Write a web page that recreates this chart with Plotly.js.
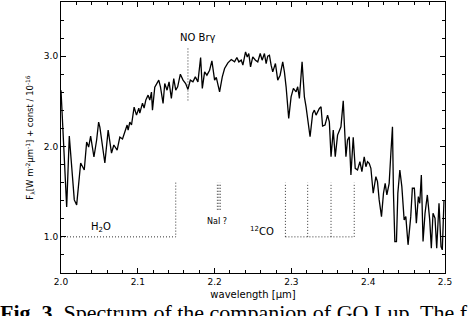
<!DOCTYPE html>
<html>
<head>
<meta charset="utf-8">
<script src="https://cdn.plot.ly/plotly-3.0.1.min.js"></script>
<style>html,body{margin:0;padding:0;background:#fff;}#chart{width:474px;height:316px;}</style>
</head>
<body>
<div id="chart"></div>
<script>
// Spectrum (wavelength in micron, flux + const in 1e-16 W m^-2 um^-1)
const wavelength = [2.0000,2.0074,2.0108,2.0173,2.0204,2.0256,2.0303,2.0334,2.0360,2.0386,2.0429,2.0464,2.0490,2.0506,2.0571,2.0614,2.0658,2.0688,2.0731,2.0766,2.0801,2.0831,2.0861,2.0874,2.0896,2.0918,2.0952,2.0983,2.1013,2.1026,2.1061,2.1082,2.1104,2.1134,2.1156,2.1178,2.1191,2.1221,2.1273,2.1295,2.1329,2.1351,2.1381,2.1407,2.1437,2.1468,2.1494,2.1519,2.1554,2.1589,2.1623,2.1653,2.1684,2.1718,2.1749,2.1783,2.1818,2.1840,2.1870,2.1900,2.1935,2.1965,2.2000,2.2022,2.2065,2.2100,2.2130,2.2173,2.2217,2.2260,2.2290,2.2316,2.2347,2.2368,2.2403,2.2425,2.2445,2.2468,2.2497,2.2532,2.2562,2.2594,2.2619,2.2649,2.2671,2.2692,2.2714,2.2736,2.2757,2.2792,2.2822,2.2853,2.2887,2.2909,2.2931,2.2965,2.2996,2.3026,2.3061,2.3082,2.3104,2.3139,2.3169,2.3191,2.3243,2.3277,2.3299,2.3321,2.3364,2.3386,2.3406,2.3438,2.3471,2.3494,2.3516,2.3545,2.3571,2.3601,2.3645,2.3675,2.3710,2.3731,2.3753,2.3775,2.3805,2.3831,2.3861,2.3892,2.3918,2.3948,2.3970,2.3991,2.4013,2.4035,2.4065,2.4100,2.4121,2.4143,2.4173,2.4199,2.4221,2.4243,2.4273,2.4295,2.4316,2.4329,2.4347,2.4368,2.4386,2.4412,2.4438,2.4468,2.4490,2.4519,2.4554,2.4575,2.4601,2.4627,2.4653,2.4671,2.4692,2.4714,2.4740,2.4770,2.4801,2.4822,2.4844,2.4870,2.4892,2.4922,2.4948,2.4965,2.4987];
const flux = [2.624,1.331,2.116,1.409,1.354,1.818,1.740,2.050,1.994,2.116,1.884,2.072,2.271,2.215,1.818,2.182,1.928,2.017,1.961,2.105,2.083,2.160,2.238,2.182,2.271,2.238,2.436,2.348,2.425,2.370,2.481,2.425,2.514,2.569,2.514,2.602,2.403,2.657,2.735,2.661,2.477,2.698,2.624,2.716,2.533,2.753,2.624,2.661,2.801,2.735,2.698,2.632,2.735,2.716,2.771,2.716,2.986,2.643,2.827,2.790,2.845,2.948,2.735,2.765,2.606,2.771,2.864,2.926,2.963,2.937,2.986,2.937,2.956,2.901,3.048,2.992,3.030,2.882,2.992,2.956,2.937,3.030,2.956,3.030,2.919,3.000,3.011,2.901,2.827,2.919,2.735,2.790,2.937,2.827,2.661,2.312,2.550,2.643,2.606,2.661,2.533,2.937,2.550,2.440,2.108,2.367,2.403,2.348,2.422,2.440,2.227,2.238,2.348,2.274,1.887,2.182,1.887,2.127,2.219,2.506,1.887,2.072,2.108,1.685,2.102,1.759,1.740,1.832,1.722,1.887,1.777,1.832,1.814,1.759,1.483,1.666,1.611,1.409,1.224,1.483,1.593,1.464,1.593,1.925,2.219,1.483,0.948,0.948,1.483,1.740,1.556,1.188,1.224,0.912,1.224,1.538,1.538,1.151,1.445,1.372,1.685,0.948,1.262,1.464,1.188,0.875,1.262,1.207,0.875,1.372,0.893,0.856,1.409];

// Feature markers
const h2oEdge = [2.0, 2.1494];
const coLines = [2.2922, 2.3212, 2.3516, 2.3818];
const naiLines = [2.2036, 2.2056, 2.2074];
const noBrg = 2.1653;
const markerBase = 1.0, markerTop = 1.6;
const naiRange = [1.30, 1.60];
const brgRange = [2.51, 3.10];

const xTicks = [2.0, 2.1, 2.2, 2.3, 2.4, 2.5];
const yTicks = [1.0, 2.0, 3.0];

// build dotted paths
const dotX = [], dotY = [];
function seg(xs, ys){ for (let i=0;i<xs.length;i++){dotX.push(xs[i]);dotY.push(ys[i]);} dotX.push(null); dotY.push(null); }
seg([h2oEdge[0], h2oEdge[1], h2oEdge[1]], [markerBase, markerBase, markerTop]);
seg([coLines[0], coLines[coLines.length-1]], [markerBase, markerBase]);
coLines.forEach(c => seg([c, c], [markerBase, markerTop]));
naiLines.forEach(c => seg([c, c], naiRange));
seg([noBrg, noBrg], brgRange);

const font = 'DejaVu Sans, sans-serif';

const traces = [
  {x: dotX, y: dotY, mode: 'lines', line: {color: '#333', width: 1, dash: '1px,2px'}, hoverinfo: 'skip', connectgaps: false},
  {x: wavelength, y: flux, mode: 'lines', line: {color: '#000', width: 1.3}}
];

const axisCommon = {
  showline: true, linecolor: '#000', linewidth: 1, mirror: 'ticks',
  ticks: 'inside', ticklen: 5, tickcolor: '#000', tickwidth: 1,
  showgrid: false, zeroline: false, automargin: false,
  tickfont: {family: font, size: 9, color: '#000'}
};

const layout = {
  width: 474, height: 316,
  margin: {l: 61, r: 29, t: 2, b: 43},
  paper_bgcolor: '#fff', plot_bgcolor: '#fff',
  showlegend: false,
  title: {text: '<b>Fig. 3.</b> Spectrum of the companion of GQ Lup. The f',
          font: {family: 'Liberation Serif, serif', size: 22, color: '#000'},
          xref: 'container', yref: 'container', x: 0, xanchor: 'left', y: 0.012, yanchor: 'middle', automargin: false},
  xaxis: Object.assign({}, axisCommon, {
    range: [2.0, 2.5], tickvals: xTicks, ticktext: xTicks.map(v => v.toFixed(1)),
    minor: {dtick: 0.02, tick0: 2.0, ticks: 'inside', ticklen: 3, tickcolor: '#000'},
    title: {text: 'wavelength [μm]', font: {family: font, size: 10, color: '#000'}, standoff: 5}
  }),
  yaxis: Object.assign({}, axisCommon, {
    range: [0.6, 3.6], tickvals: yTicks, ticktext: yTicks.map(v => v.toFixed(1)),
    minor: {dtick: 0.2, tick0: 0, ticks: 'inside', ticklen: 3, tickcolor: '#000'},
    title: {text: 'F<sub>λ</sub>[W m<sup>-2</sup>μm<sup>-1</sup>] + const / 10<sup>-16</sup>', font: {family: font, size: 8.5, color: '#000'}, standoff: 8}
  }),
  annotations: [
    {x: 2.178, y: 3.21, xref: 'x', yref: 'y', text: 'NO Brγ', showarrow: false, font: {family: font, size: 10, color: '#000'}},
    {x: 2.052, y: 1.10, xref: 'x', yref: 'y', text: 'H<sub>2</sub>O', showarrow: false, font: {family: font, size: 10, color: '#000'}},
    {x: 2.2026, y: 1.166, xref: 'x', yref: 'y', text: 'NaI ?', showarrow: false, font: {family: font, size: 8, color: '#000'}},
    {x: 2.262, y: 1.06, xref: 'x', yref: 'y', text: '<sup>12</sup>CO', showarrow: false, font: {family: font, size: 10, color: '#000'}}
  ]
};

Plotly.newPlot('chart', traces, layout, {staticPlot: true, displayModeBar: false});
</script>
</body>
</html>
